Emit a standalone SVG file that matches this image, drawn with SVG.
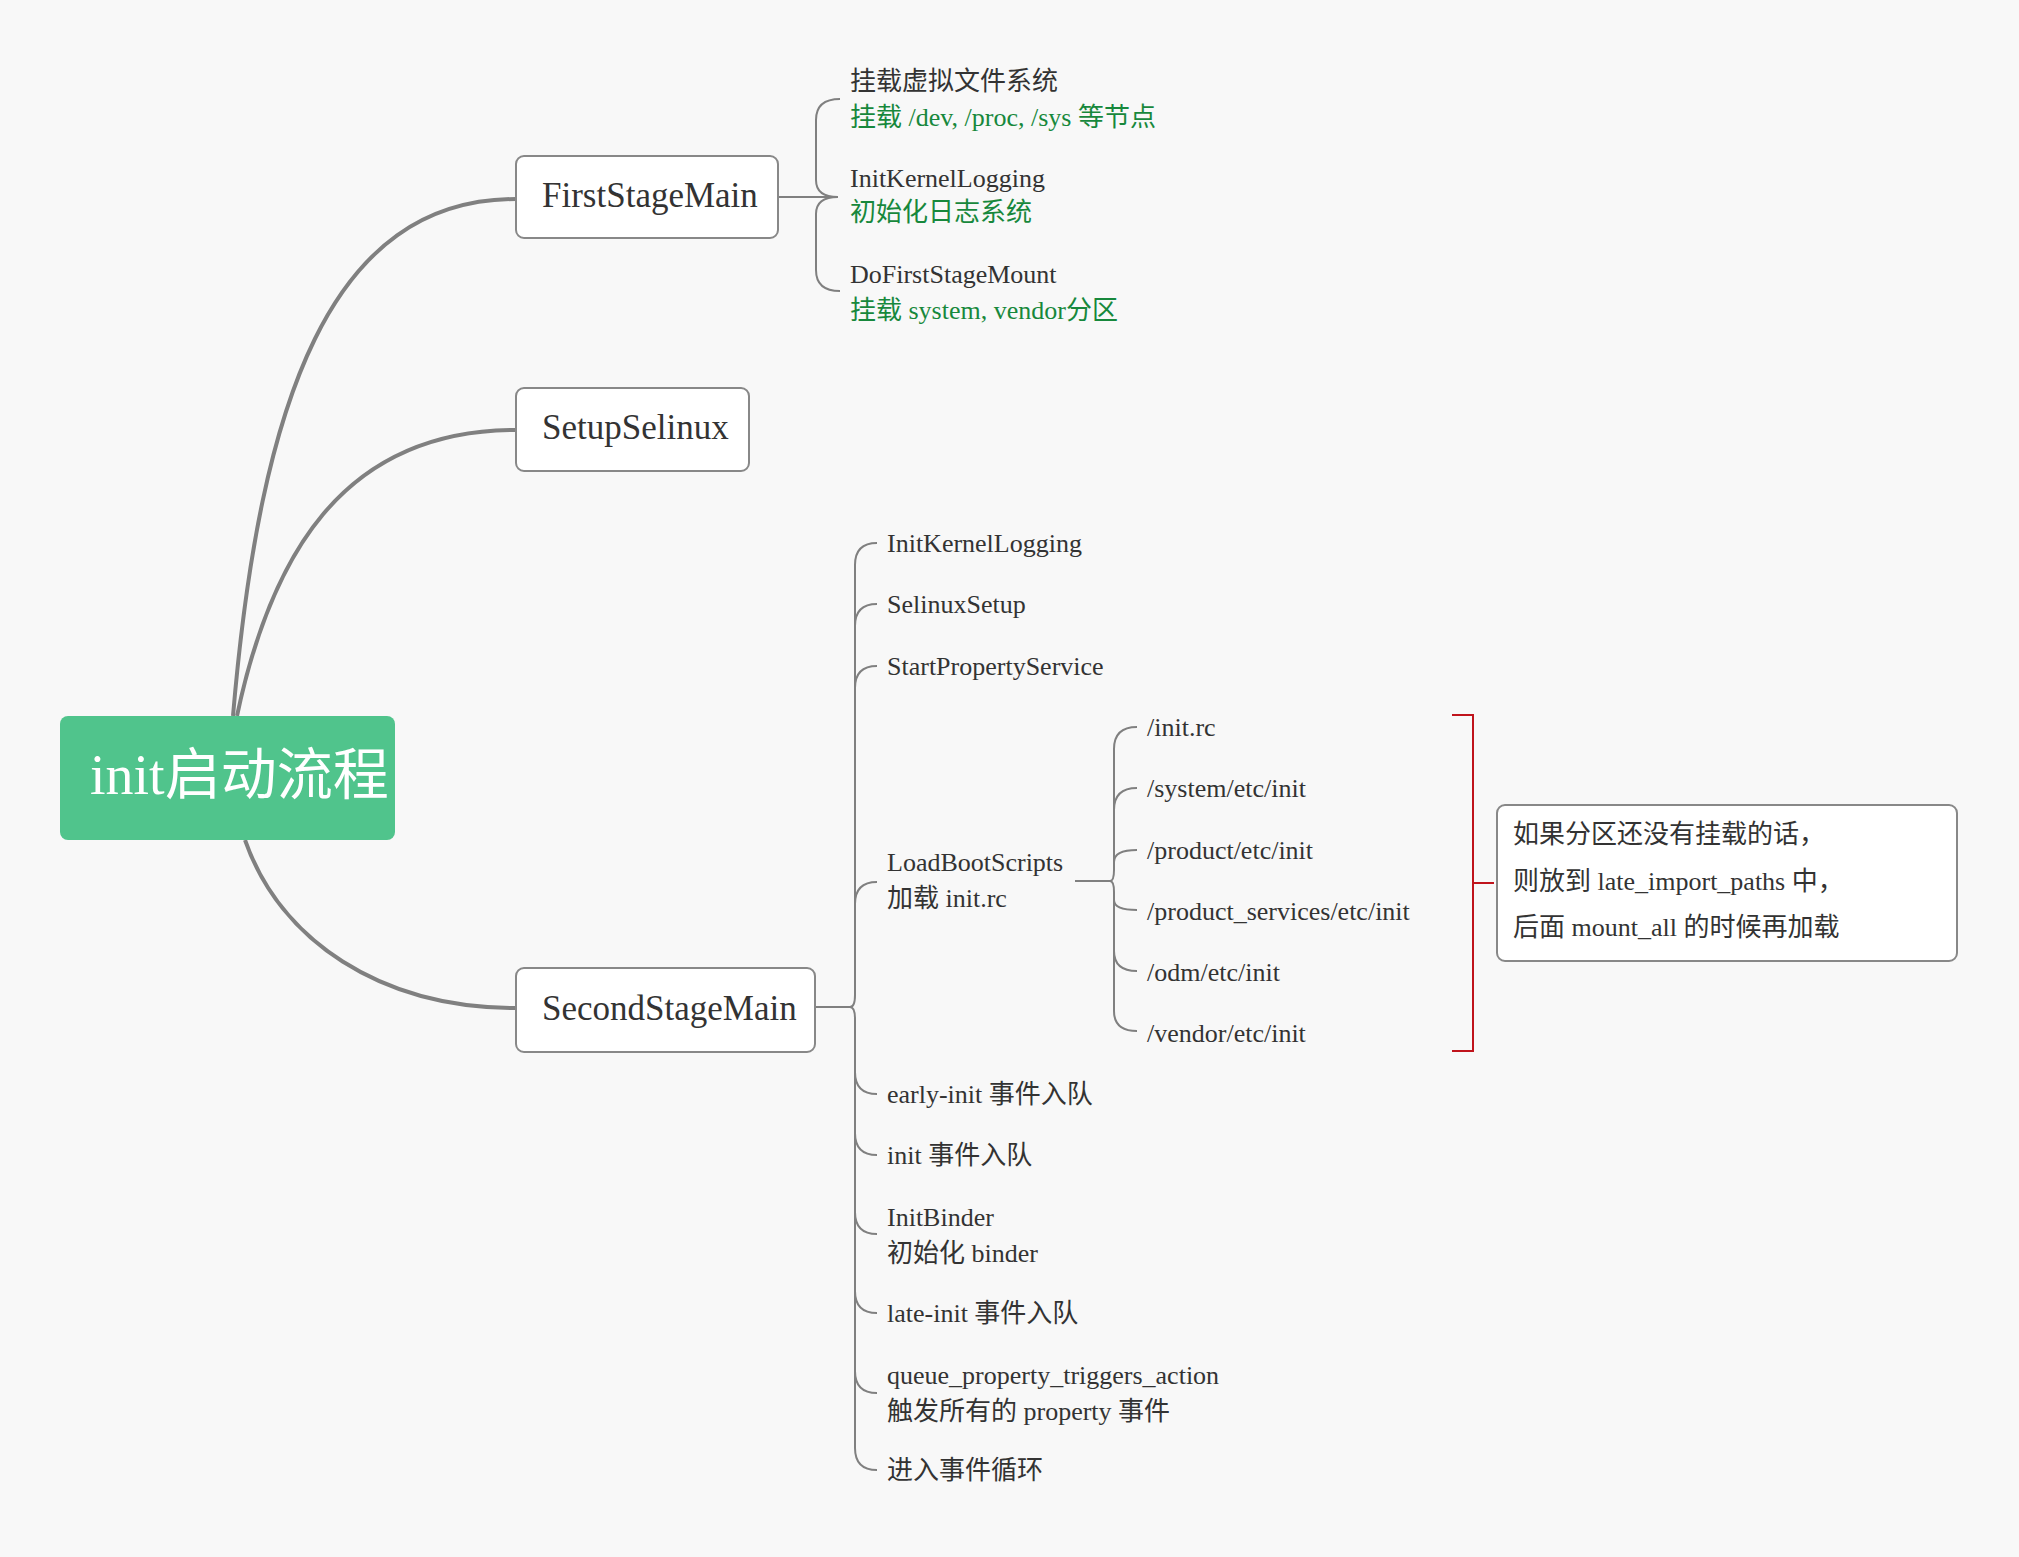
<svg xmlns="http://www.w3.org/2000/svg" width="2019" height="1557" viewBox="0 0 2019 1557">
<style>
.t{font-family:"Liberation Serif","Noto Sans CJK SC",serif;font-size:26px;fill:#333}
.g{fill:#17883c}
.b{font-family:"Liberation Serif","Noto Sans CJK SC",serif;font-size:35px;fill:#333}
.box{fill:#fff;stroke:#888;stroke-width:2}
.c{fill:none;stroke:#808080;stroke-width:2}
.m{fill:none;stroke:#808080;stroke-width:4}
</style>
<rect width="2019" height="1557" fill="#f8f8f8"/>
<g id="connectors">
<path class="m" d="M233 716 C260 400 330 199 516 199"/>
<path class="m" d="M237 716 C270 560 340 430 516 430"/>
<path class="m" d="M245 840 C280 940 380 1008 516 1008"/>
<path class="c" d="M778 197 H838 M838 197 Q816 197 816 180 L816 120 Q816 99 840 99 M838 197 Q816 197 816 214 L816 270 Q816 291 840 291"/>
<path class="c" d="M815 1007 H850 M850 1007 Q855 1007 855 995 L855 565 Q855 543 877 543 M855 990 L855 626 Q855 604 877 604 M855 990 L855 688 Q855 666 877 666 M855 990 L855 904 Q855 882 877 882 M850 1007 Q855 1007 855 1019 L855 1072 Q855 1094 877 1094 M855 1020 L855 1133 Q855 1155 877 1155 M855 1020 L855 1212 Q855 1234 877 1234 M855 1020 L855 1291 Q855 1313 877 1313 M855 1020 L855 1371 Q855 1393 877 1393 M855 1020 L855 1448 Q855 1470 877 1470"/>
<path class="c" d="M1075 881 H1110 M1110 881 Q1114 881 1114 870 L1114 749 Q1114 727 1137 727 M1114 870 L1114 810 Q1114 788 1137 788 M1114 870 L1114 862 Q1114 850 1137 850 M1110 881 Q1114 881 1114 892 L1114 900 Q1114 910 1137 910 M1114 892 L1114 951 Q1114 971 1137 971 M1114 892 L1114 1011 Q1114 1031 1137 1031"/>
<path fill="none" stroke="#c0141c" stroke-width="2" d="M1452 715 H1473 V1051 H1452 M1473 883 H1494"/>
</g>
<g id="root"><rect x="60" y="716" width="335" height="124" rx="8" fill="#50c48c"/><text x="90" y="794" font-family="Liberation Serif,'Noto Sans CJK SC',serif" font-size="56" fill="#fff">init启动流程</text></g>
<g id="first"><rect class="box" x="516" y="156" width="262" height="82" rx="8"/><text class="b" x="542" y="207">FirstStageMain</text></g>
<g id="selinux"><rect class="box" x="516" y="388" width="233" height="83" rx="8"/><text class="b" x="542" y="439">SetupSelinux</text></g>
<g id="second"><rect class="box" x="516" y="968" width="299" height="84" rx="8"/><text class="b" x="542" y="1020">SecondStageMain</text></g>
<g id="first-children">
<text class="t" x="850" y="90">挂载虚拟文件系统</text><text class="t g" x="850" y="126">挂载 /dev, /proc, /sys 等节点</text>
<text class="t" x="850" y="187">InitKernelLogging</text><text class="t g" x="850" y="221">初始化日志系统</text>
<text class="t" x="850" y="283">DoFirstStageMount</text><text class="t g" x="850" y="319">挂载 system, vendor分区</text>
</g>
<g id="second-children">
<text class="t" x="887" y="552">InitKernelLogging</text>
<text class="t" x="887" y="613">SelinuxSetup</text>
<text class="t" x="887" y="675">StartPropertyService</text>
<text class="t" x="887" y="871">LoadBootScripts</text><text class="t" x="887" y="907">加载 init.rc</text>
<text class="t" x="887" y="1103">early-init 事件入队</text>
<text class="t" x="887" y="1164">init 事件入队</text>
<text class="t" x="887" y="1226">InitBinder</text><text class="t" x="887" y="1262">初始化 binder</text>
<text class="t" x="887" y="1322">late-init 事件入队</text>
<text class="t" x="887" y="1384">queue_property_triggers_action</text><text class="t" x="887" y="1420">触发所有的 property 事件</text>
<text class="t" x="887" y="1479">进入事件循环</text>
</g>
<g id="scripts">
<text class="t" x="1147" y="736">/init.rc</text>
<text class="t" x="1147" y="797">/system/etc/init</text>
<text class="t" x="1147" y="859">/product/etc/init</text>
<text class="t" x="1147" y="920">/product_services/etc/init</text>
<text class="t" x="1147" y="981">/odm/etc/init</text>
<text class="t" x="1147" y="1042">/vendor/etc/init</text>
</g>
<g id="note"><rect class="box" x="1497" y="805" width="460" height="156" rx="8"/>
<text class="t" font-size="33" x="1513" y="843">如果分区还没有挂载的话，</text>
<text class="t" font-size="33" x="1513" y="890">则放到 late_import_paths 中，</text>
<text class="t" font-size="33" x="1513" y="936">后面 mount_all 的时候再加载</text>
</g>
</svg>
